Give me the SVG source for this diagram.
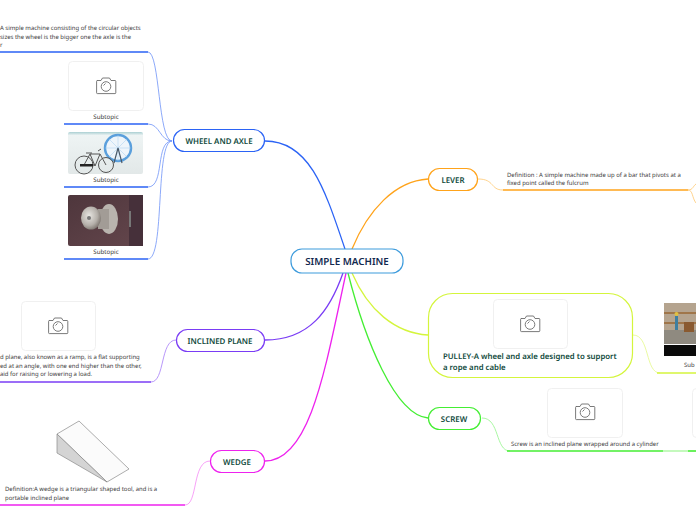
<svg xmlns="http://www.w3.org/2000/svg" width="696" height="520" viewBox="0 0 696 520">
<style>
text{font-family:"Noto Sans","Open Sans",sans-serif;text-rendering:geometricPrecision}
.t{font-size:5.950px;fill:#3a3a3a}
.n{font-size:7.900px;font-weight:600;fill:#0f4a3c;text-anchor:middle}
.p{font-size:7.800px;font-weight:600;fill:#0f4a3c}
.s{font-size:6.200px;fill:#3a3a3a;text-anchor:middle}
.node{fill:#fff;stroke-width:1.2}
.c{fill:none;stroke-width:1.3}
.b{fill:none;stroke-width:.8}
.u{fill:none;stroke-width:1.6}
.box{fill:#fff;stroke:#ececec;stroke-width:.8}
.cam{fill:none;stroke:#6b6b6b;stroke-width:.9}
</style>
<defs>
<g id="camera"><path class="cam" d="M-9 -6.500h4l1.500-2.500h7l1.500 2.500h4a.8.800 0 0 1 .8.800v11.500a.8.800 0 0 1-.8.800h-17.600a.8.800 0 0 1-.8-.8v-11.500a.8.800 0 0 1 .8-.8z"/><circle class="cam" cx="0" cy="-.5" r="4.800"/><path class="cam" d="M-2.500 -1.500l2-2"/></g>
<linearGradient id="sky" x1="0" y1="0" x2="0" y2="1"><stop offset="0" stop-color="#a9cfd2"/><stop offset=".08" stop-color="#eef4f4"/><stop offset="1" stop-color="#e2e8e8"/></linearGradient>
<linearGradient id="door" x1="0" y1="0" x2="1" y2="1"><stop offset="0" stop-color="#4e363c"/><stop offset="1" stop-color="#64464c"/></linearGradient>
<radialGradient id="knob" cx=".4" cy=".4" r=".7"><stop offset="0" stop-color="#e8e6e2"/><stop offset=".6" stop-color="#b5b0aa"/><stop offset="1" stop-color="#6e6660"/></radialGradient>
</defs>
<g id="connectors">
<path class="c" stroke="#2b63f5" d="M265 141C310 141 325 190 345 249"/>
<path class="c" stroke="#ffa31a" d="M428 179C395 181 368 210 352 249"/>
<path class="c" stroke="#d4f53c" d="M428 335C395 333 368 310 352 273"/>
<path class="c" stroke="#44ee33" d="M428 418C395 415 365 340 348 273"/>
<path class="c" stroke="#7a3cf5" d="M265 340C310 340 330 310 343 273"/>
<path class="c" stroke="#ee22ee" d="M265 461C310 461 325 370 346 273"/>
<path class="b" stroke="#6f93f8" d="M172 141C158 141 160 52 148 52M172 141C160 141 160 124 148 124M172 141C155 141 165 187 148 187M172 141C155 141 165 259 148 259"/>
<path class="u" stroke="#2b63f5" d="M0 52H148M64 124H148M64 187H148M64 259H148"/>
<path class="b" stroke="#a67cf8" d="M176 340C160 340 165 382 151 382"/>
<path class="u" stroke="#7a3cf5" d="M0 382H151"/>
<path class="b" stroke="#f58af5" d="M210 461C192 461 198 505 185 505"/>
<path class="u" stroke="#ee22ee" d="M0 505H185"/>
<path class="b" stroke="#ffc870" d="M478 179C495 179 490 190 503 190"/>
<path class="u" stroke="#ffa31a" d="M503 190H688"/>
<path class="b" stroke="#ffc870" d="M688 190C693 190 693 186 696 184M688 190C693 190 692 198 696 203"/>
<path class="b" stroke="#e4f98a" d="M633 335C650 335 645 373 660 373"/>
<path class="u" stroke="#d4f53c" d="M657 373H696"/>
<path class="b" stroke="#93f58a" d="M482 418C500 418 495 451 510 451"/>
<path class="u" stroke="#44ee33" d="M507 451H663"/>
<path class="u" stroke="#b5f8ad" d="M663 451H688"/>
<path class="u" stroke="#44ee33" d="M688 451H696"/>
</g>
<g id="central"><rect class="node" stroke="#3d9bdc" x="291" y="249" width="112" height="24" rx="11"/><text x="347" y="265" text-anchor="middle" font-size="9.800" font-weight="600" fill="#12294f">SIMPLE MACHINE</text></g>
<g id="wheel"><rect class="node" stroke="#2b63f5" x="173.500" y="129.500" width="91" height="22" rx="11"/><text class="n" x="219" y="144">WHEEL AND AXLE</text>
<text class="t" x="0" y="30">A simple machine consisting of the circular objects</text><text class="t" x="0" y="39">sizes the wheel is the bigger one the axle is the</text><text class="t" x="0" y="47">r</text>
<rect class="box" x="68.500" y="61.500" width="75" height="49" rx="4"/><use href="#camera" x="106" y="87"/><text class="s" x="106" y="119">Subtopic</text>
<rect x="68" y="132" width="75" height="42" rx="2" fill="url(#sky)"/>
<circle cx="118" cy="148" r="13" fill="#eef5fb" stroke="#5a9fdc" stroke-width="2.500"/><path d="M118 135V161M105 148H131M109 139L127 157M127 139L109 157" stroke="#a5cdee" stroke-width=".5" fill="none"/><path d="M118 148L114 163M118 148L122 163" stroke="#4a5a6a" stroke-width="1.200" fill="none"/>
<g fill="none" stroke="#555" stroke-width="1"><circle cx="84" cy="165" r="9"/><circle cx="106" cy="165" r="7.500"/><path d="M84 165L90 154H100L106 165M90 154L95 166L100 154M84 165H95M86 153H92M98 151L101 149"/></g><rect x="80" y="164" width="13" height="2.500" fill="#222"/>
<text class="s" x="106" y="182">Subtopic</text>
<rect x="68" y="195" width="75" height="51" rx="2" fill="url(#door)"/><rect x="129" y="195" width="14" height="51" fill="#46303a"/><rect x="129" y="211" width="2" height="16" fill="#777"/>
<ellipse cx="109" cy="219" rx="9" ry="15" fill="#b9b4ae"/><rect x="98" y="209" width="11" height="20" fill="#a29c96"/><ellipse cx="91" cy="218" rx="10" ry="11.500" fill="url(#knob)"/><circle cx="89" cy="218" r="2" fill="#777"/>
<text class="s" x="106" y="254">Subtopic</text></g>
<g id="inclined"><rect class="node" stroke="#7a3cf5" x="176.500" y="329.500" width="88" height="22" rx="11"/><text class="n" x="220" y="344">INCLINED PLANE</text>
<rect class="box" x="21.500" y="301.500" width="74" height="49" rx="4"/><use href="#camera" x="58" y="327"/>
<text class="t" x="0" y="359">d plane, also known as a ramp, is a flat supporting</text><text class="t" x="0" y="368">ed at an angle, with one end higher than the other,</text><text class="t" x="0" y="376">aid for raising or lowering a load.</text></g>
<g id="wedge"><rect class="node" stroke="#ee22ee" x="210.500" y="450.500" width="54" height="22" rx="11"/><text class="n" x="237" y="465">WEDGE</text>
<polygon points="57,434 79,421 129,469 107,482" fill="#fbfbfb" stroke="#8a8a8a" stroke-width=".7"/><polygon points="57,434 57,453 107,482" fill="#d4d4d4" stroke="#8a8a8a" stroke-width=".7"/>
<text class="t" x="5" y="491">Definition:A wedge is a triangular shaped tool, and is a</text><text class="t" x="5" y="500">portable inclined plane</text></g>
<g id="lever"><rect class="node" stroke="#ffa31a" x="428.500" y="168.500" width="49" height="22" rx="11"/><text class="n" x="453" y="183">LEVER</text>
<text class="t" x="507" y="177">Definition : A simple machine made up of a bar that pivots at a</text><text class="t" x="507" y="185">fixed point called the fulcrum</text></g>
<g id="pulley"><rect class="node" stroke="#d4f53c" x="428.500" y="293.500" width="204" height="84" rx="24"/><rect class="box" x="493.500" y="299.500" width="74" height="49" rx="4"/><use href="#camera" x="530" y="325"/>
<text class="p" x="443" y="359">PULLEY-A wheel and axle designed to support</text><text class="p" x="443" y="370">a rope and cable</text>
<rect x="664" y="303" width="32" height="41" fill="#b5a48f"/><rect x="664" y="330" width="32" height="14" fill="#8f8a80"/><rect x="664" y="312" width="32" height="2" fill="#a0764a"/><rect x="664" y="322" width="32" height="2" fill="#a0764a"/><rect x="675" y="316" width="3" height="14" fill="#3f7fa0"/><circle cx="676.500" cy="314" r="2" fill="#e0c040"/><rect x="684" y="322" width="10" height="10" fill="#8a5a30"/><rect x="664" y="345" width="32" height="11" fill="#0a0a0a"/>
<text class="t" x="684" y="367">Sub</text></g>
<g id="screw"><rect class="node" stroke="#44ee33" x="428.500" y="407.500" width="52" height="22" rx="11"/><text class="n" x="454" y="422">SCREW</text>
<rect class="box" x="547.500" y="388.500" width="75" height="49" rx="4"/><use href="#camera" x="585" y="413"/><rect class="box" x="692.500" y="388.500" width="20" height="49" rx="4"/>
<text class="t" x="511" y="446">Screw is an inclined plane wrapped around a cylinder</text></g>
</svg>
